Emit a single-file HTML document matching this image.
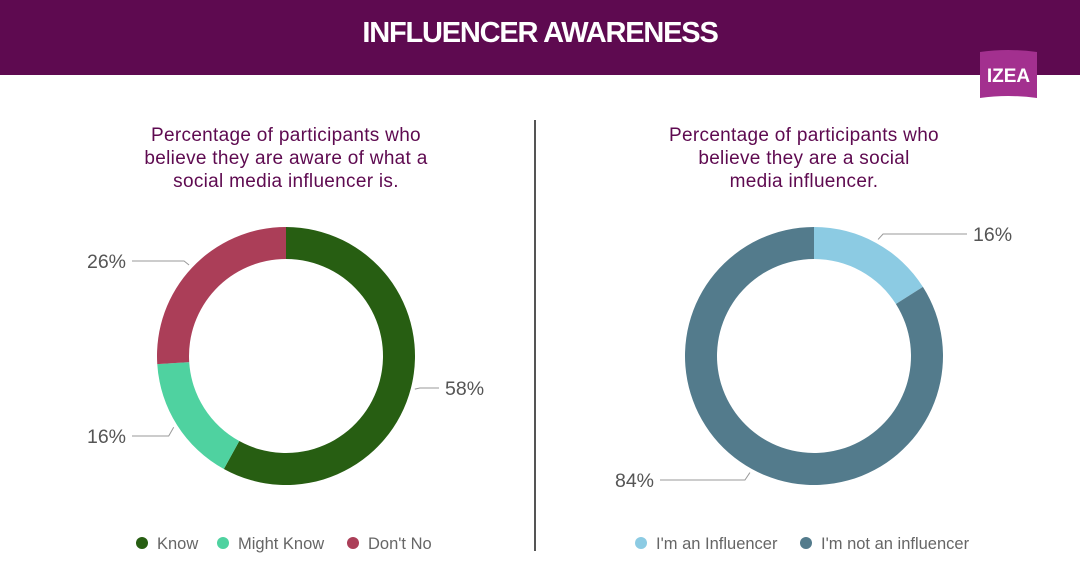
<!DOCTYPE html>
<html><head><meta charset="utf-8"><style>
body{margin:0;width:1080px;height:566px;background:#fff;overflow:hidden;font-family:"Liberation Sans",sans-serif;position:relative}
.hdr{position:absolute;left:0;top:0;width:1080px;height:75px;background:#5e0a50}
.title{position:absolute;top:17px;width:1080px;text-align:center;color:#fff;font-size:29px;font-weight:bold;letter-spacing:-1.2px}
.sub{position:absolute;width:440px;text-align:center;color:#5e0a50;font-size:19px;line-height:23px;letter-spacing:0.3px}
.divider{position:absolute;left:534px;top:120px;width:1.5px;height:431px;background:#555}
</style></head><body>
<div class="hdr"></div>
<div class="title">INFLUENCER AWARENESS</div>
<svg style="position:absolute;left:980px;top:50px" width="57" height="49"><path d="M0,2 Q28,-2 57,2 L57,48 Q28,44 0,48Z" fill="#a3308f"/><text x="28.5" y="32" fill="#fff" font-size="19" font-weight="bold" text-anchor="middle" font-family="Liberation Sans">IZEA</text></svg>
<div class="sub" style="left:66px;top:124px">Percentage of participants who<br>believe they are aware of what a<br>social media influencer is.</div>
<div class="sub" style="left:584px;top:124px">Percentage of participants who<br>believe they are a social<br>media influencer.</div>
<div class="divider"></div>
<svg id="chart" width="1080" height="566" style="position:absolute;left:0;top:0"></svg>
<script>
const leftCats=["Know","Might Know","Don't No"];
const leftVals=[58,16,26];
const leftLabels=["58%","16%","26%"];
const rightCats=["I'm an Influencer","I'm not an influencer"];
const rightVals=[16,84];
const rightLabels=["16%","84%"];
const NS="http://www.w3.org/2000/svg";
const svg=document.getElementById('chart');
function mk(t,a){const e=document.createElementNS(NS,t);for(const k in a)e.setAttribute(k,a[k]);svg.appendChild(e);return e;}
function pt(cx,cy,r,a){return [cx+r*Math.sin(a),cy-r*Math.cos(a)];}
function donut(cx,cy,vals,colors,labels,labelPos,prefix){
  const R=129,r=97,tot=vals.reduce((a,b)=>a+b,0);let a0=0;
  vals.forEach((v,i)=>{
    const a1=a0+v/tot*2*Math.PI,lg=(a1-a0)>Math.PI?1:0;
    const p1=pt(cx,cy,R,a0),p2=pt(cx,cy,R,a1),p3=pt(cx,cy,r,a1),p4=pt(cx,cy,r,a0);
    const e=mk('path',{d:`M${p1}L${p1} A${R},${R} 0 ${lg} 1 ${p2} L${p3} A${r},${r} 0 ${lg} 0 ${p4}Z`,fill:colors[i]});
    
    
    const am=(a0+a1)/2,pe=pt(cx,cy,R+4,am),lp=labelPos[i];
    const right=pe[0]>cx;
    const lx=right?lp[0]-6:lp[0]+6;
    const ln=mk('polyline',{points:`${pe} ${pe[0]+(right?5:-5)},${lp[1]} ${lx},${lp[1]}`,fill:'none',stroke:'#999','stroke-width':1});
    
    
    const t=mk('text',{x:lp[0],y:lp[1]+7,'font-size':19.5,fill:'#555','text-anchor':right?'start':'end','font-family':'Liberation Sans'});
    t.textContent=labels[i];
    
    
    a0=a1;
  });
}
donut(286,356,leftVals,['#275e12','#4fd2a0','#ab3e58'],leftLabels,[[445,388],[126,436],[126,261]],'left');
donut(814,356,rightVals,['#8ccbe3','#537b8c'],rightLabels,[[973,234],[654,480]],'right');
function legend(items,colors,x0,gaps,prefix){
  let x=x0;
  items.forEach((c,i)=>{
    const d=mk('circle',{cx:x,cy:543,r:6,fill:colors[i]});
    
    
    const t=mk('text',{x:x+15,y:549,'font-size':16.5,fill:'#666','font-family':'Liberation Sans'});
    t.textContent=c;
    
    
    x+=gaps[i];
  });
}
legend(leftCats,['#275e12','#4fd2a0','#ab3e58'],142,[81,130],'left');
legend(rightCats,['#8ccbe3','#537b8c'],641,[165],'right');
</script>
</body></html>
